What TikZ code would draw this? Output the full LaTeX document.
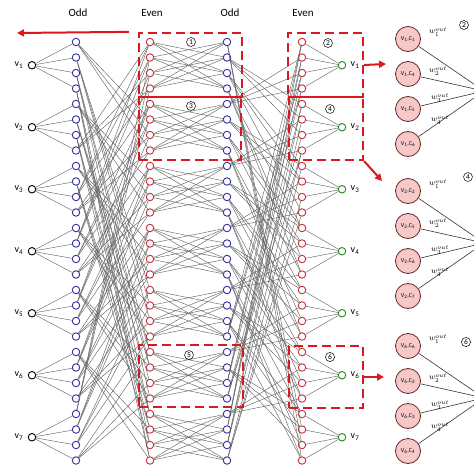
\documentclass[tikz,border=0pt]{standalone}
\usepackage{fontspec}
\setmainfont{Carlito}
\usetikzlibrary{arrows,arrows.meta,backgrounds,fit,calc,positioning}
\definecolor{oddblue}{RGB}{48,48,165}
\definecolor{evenred}{RGB}{200,45,55}
\definecolor{boxred}{RGB}{218,24,32}
\definecolor{outgreen}{RGB}{40,135,40}
\definecolor{cellpink}{RGB}{246,200,200}
\definecolor{cellrim}{RGB}{105,35,35}

\begin{document}
\begin{tikzpicture}[x=1pt,y=-1pt,align=center]
\tikzstyle{unit}=[circle,draw,fill=white,line width=0.9pt,inner sep=0pt,minimum size=7.5pt]
\tikzstyle{odd}=[unit,draw=oddblue]
\tikzstyle{even}=[unit,draw=evenred]
\tikzstyle{input}=[unit,draw=black]
\tikzstyle{output}=[unit,draw=outgreen]
\tikzstyle{wire}=[black!60,line width=0.45pt]
\tikzstyle{group}=[draw=boxred,line width=2.3pt,dash pattern=on 9pt off 5pt,inner sep=0pt]
\tikzstyle{flow}=[boxred,line width=2pt,-{Triangle[length=7pt,width=7pt]}]
\tikzstyle{tag}=[circle,draw,line width=0.5pt,inner sep=1pt,font=\fontsize{7.5}{7.5}\selectfont]
\tikzstyle{cell}=[circle,draw=cellrim,fill=cellpink,line width=0.8pt,minimum size=25pt,inner sep=0pt,font=\fontsize{6}{6}\selectfont]
\tikzstyle{weight}=[font=\fontsize{8}{8}\selectfont,inner sep=0pt]

\useasboundingbox (0,0) rectangle (474,474);
\clip (0,0) rectangle (474,474);

% column titles
\foreach \x/\name in {78/Odd,152/Even,230/Odd,303/Even}
  \node[font=\fontsize{11}{11}\selectfont] (title\x) at (\x,13) {\name};

% layers
\foreach \n in {0,...,27}{
  \pgfmathsetmacro\y{42+15.5*\n}
  \node[odd] (a\n) at (76,\y) {};
  \node[even] (b\n) at (150,\y) {};
  \node[odd] (c\n) at (227,\y) {};
  \node[even] (d\n) at (302,\y) {};
}

% variables
\foreach \i in {1,...,7}{
  \pgfmathsetmacro\y{42+15.5*(4*\i-2.5)}
  \node[input,label={[label distance=1pt,font=\fontsize{10}{10}\selectfont]left:v\textsubscript{\i}}] (vin\i) at (32,\y) {};
  \node[output,label={[label distance=1pt,font=\fontsize{10}{10}\selectfont]right:v\textsubscript{\i}}] (vout\i) at (342,\y) {};
  \foreach \k in {0,...,3}{
    \pgfmathtruncatemacro\n{4*(\i-1)+\k}
    \draw[wire] (vin\i) -- (a\n);
    \draw[wire] (d\n) -- (vout\i);
  }
}

% odd -> even and even -> odd
\foreach \g in {0,...,6}
  \foreach \m in {0,...,3}
    \foreach \mm in {0,...,3}{
      \ifnum\m=\mm\else
        \pgfmathtruncatemacro\src{4*mod(\g+{0,2,3,4}[\m]+6,7)+mod(4-\m,4)}
        \pgfmathtruncatemacro\dst{4*\g+\mm}
        \pgfmathtruncatemacro\p{4*\g+\m}
        \draw[wire] (a\src) -- (b\dst);
        \draw[wire] (b\p) -- (c\dst);
      \fi
    }

% odd -> even, last layer
\foreach \i in {1,...,7}
  \foreach \k in {0,...,3}
    \foreach \kk in {0,...,3}{
      \ifnum\k=\kk\else
        \pgfmathtruncatemacro\src{4*mod(\i+{0,3,4,5}[\kk],7)+mod(4-\kk,4)}
        \pgfmathtruncatemacro\dst{4*(\i-1)+\k}
        \draw[wire] (c\src) -- (d\dst);
      \fi
    }

% dashed groups
\node[group,fit={(139,33)(242,97)}] (box1) {};
\node[group,fit={(139,97)(241,160)}] (box3) {};
\node[group,fit={(139,345)(243,407)}] (box5) {};
\node[group,fit={(288,33)(363,97)}] (box2) {};
\node[group,fit={(289,97)(363,160)}] (box4) {};
\node[group,fit={(289,346)(363,408)}] (box6) {};
\foreach \x/\y/\t in {191/42/1,191/106/3,189/355/5,328/43/2,330/109/4,330/357/6,464/25/2,468/177/4,466/342/6}
  \node[tag] (tag\t-\x) at (\x,\y) {\t};

% arrows
\coordinate (leftend) at (17,33);
\coordinate (p2in) at (386,64);
\coordinate (p4in) at (382,181);
\coordinate (p6in) at (384,377);
\draw[flow] ([xshift=-9pt]box1.north west) -- (leftend);
\draw[flow] (box2.east) -- (p2in);
\draw[flow] (box4.south east) -- (p4in);
\draw[flow] (box6.east) -- (p6in);

% output weights
\foreach \g/\y/\v/\cl in {2/39/1/{1,4,5,6},4/191/2/{2,5,6,7},6/346/6/{6,2,3,4}}{
  \coordinate (sum\g) at (484,\y+52);
  \foreach \c [count=\k] in \cl {
    \pgfmathsetmacro\yy{\y+35*(\k-1)}
    \node[cell] (cell\g-\k) at (408,\yy) {V\textsubscript{\v},C\textsubscript{\c}};
    \draw[black!80,line width=0.6pt] (cell\g-\k) -- (sum\g);
  }
  \foreach \k/\dx/\dy in {1/30/-7,2/30/-3,3/32/-11,4/32/-24}
    \node[weight] (w\g-\k) at ($(cell\g-\k)+(\dx,\dy)$) {$w_{\k}^{out}$};
}
\end{tikzpicture}
\end{document}
